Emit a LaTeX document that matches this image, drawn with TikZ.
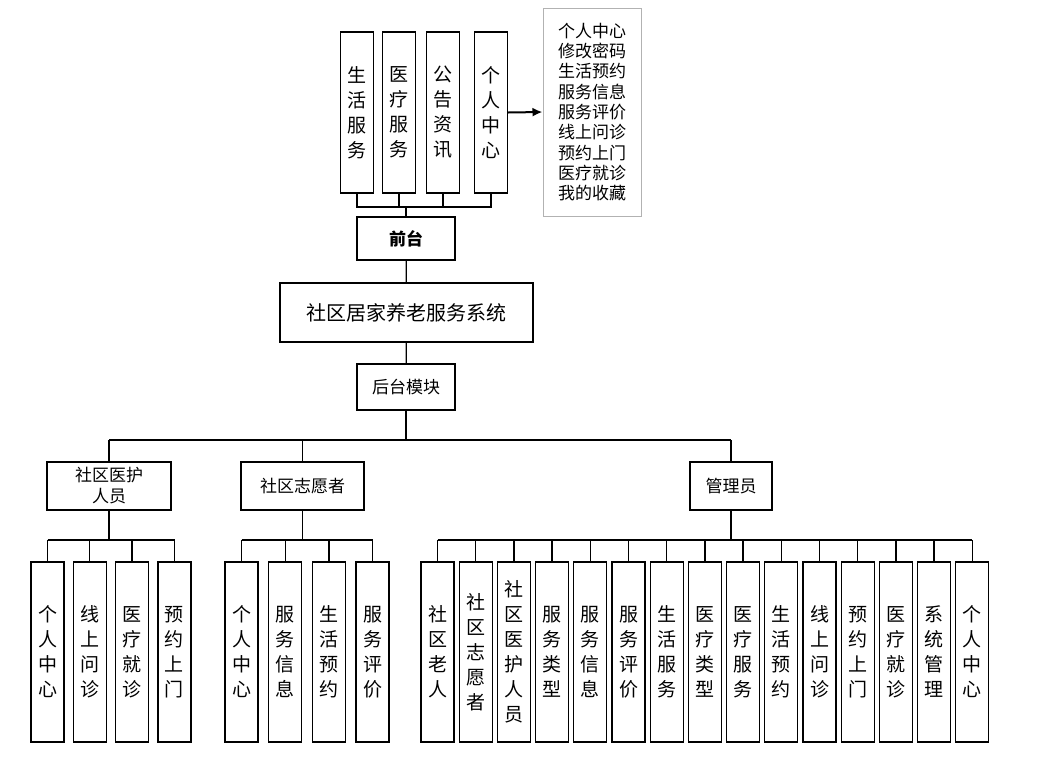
\documentclass[tikz,border=0pt]{standalone}
\usepackage{fontspec}
\setmainfont{Noto Sans CJK SC}
\usetikzlibrary{positioning, arrows.meta}

\begin{document}
\begin{tikzpicture}[x=1pt,y=-1pt,line width=1.3pt]
  \tikzset{box/.style={draw, inner sep=0pt, font=\fontsize{17}{20}\selectfont},
           vbox/.style={draw, minimum width=33pt, minimum height=180pt, inner sep=0pt,
                        align=center, font=\fontsize{19}{25}\selectfont}}
    \useasboundingbox (0,0) rectangle (1039,758);

    % front end
    \foreach \x/\t [count=\i] in {357/生\\活\\服\\务, 399/医\\疗\\服\\务, 443/公\\告\\资\\讯, 491/个\\人\\中\\心}
      \node[vbox, minimum height=161pt] (f\i) at (\x,112.5) {\t};
    \node[box, minimum width=98pt, minimum height=43pt, font=\bfseries\fontsize{17}{20}\selectfont] (front) at (406,238.5) {前台};
    \node[draw=black!30, line width=1pt, minimum width=98pt, minimum height=208pt, align=left,
          font=\fontsize{17}{20.3}\selectfont] (menu) at (592,112)
      {个人中心\\修改密码\\生活预约\\服务信息\\服务评价\\线上问诊\\预约上门\\医疗就诊\\我的收藏};
    \node[box, minimum width=253pt, minimum height=59pt, font=\fontsize{20}{24}\selectfont] (sys) at (406.5,312.5) {社区居家养老服务系统};
    \node[box, minimum width=98pt, minimum height=46pt] (back) at (406,387) {后台模块};

    \foreach \i in {1,...,4} \draw (f\i.south) -- ++(0,14);
    \draw (357,207) -- (491,207);
    \draw (406,207) -- (front.north);
    \draw[-{Latex[length=10pt,width=9pt]}, line width=2pt] (f4.east) -- (menu.west);
    \draw (front) -- (sys) (sys) -- (back);

    % roles
    \node[box, minimum width=124pt, minimum height=48pt, align=center, font=\fontsize{17}{21}\selectfont] (r1) at (109,486) {社区医护\\人员};
    \node[box, minimum width=123pt, minimum height=48pt] (r2) at (302.5,486) {社区志愿者};
    \node[box, minimum width=82pt, minimum height=48pt] (r3) at (731,486) {管理员};
    \draw (back.south) -- (406,440);
    \draw (109,440) -- (731,440);
    \foreach \i/\x in {1/109, 2/302.5, 3/731} \draw (\x,440) -- (r\i.north);

    % nurse
    \foreach \t [count=\i] in {个\\人\\中\\心, 线\\上\\问\\诊, 医\\疗\\就\\诊, 预\\约\\上\\门}
      \node[vbox] (a\i) at ({47.5+42.3*(\i-1)},652) {\t};
    % volunteer
    \foreach \t [count=\i] in {个\\人\\中\\心, 服\\务\\信\\息, 生\\活\\预\\约, 服\\务\\评\\价}
      \node[vbox] (b\i) at ({241.5+43.7*(\i-1)},652) {\t};
    % admin
    \foreach \t [count=\i] in {社\\区\\老\\人, 社\\区\\志\\愿\\者, 社\\区\\医\\护\\人\\员, 服\\务\\类\\型,
        服\\务\\信\\息, 服\\务\\评\\价, 生\\活\\服\\务, 医\\疗\\类\\型, 医\\疗\\服\\务, 生\\活\\预\\约,
        线\\上\\问\\诊, 预\\约\\上\\门, 医\\疗\\就\\诊, 系\\统\\管\\理, 个\\人\\中\\心}
      \node[vbox] (c\i) at ({437.5+38.2*(\i-1)},652) {\t};

    \draw (r1.south) -- (109,540) (47.5,540) -- (174.5,540);
    \foreach \i in {1,...,4} \draw (a\i.north |- 0,540) -- (a\i.north);
    \draw (r2.south) -- (302.5,540) (241.5,540) -- (372.6,540);
    \foreach \i in {1,...,4} \draw (b\i.north |- 0,540) -- (b\i.north);
    \draw (r3.south) -- (731,540) (437.5,540) -- (972.3,540);
    \foreach \i in {1,...,15} \draw (c\i.north |- 0,540) -- (c\i.north);
\end{tikzpicture}
\end{document}
